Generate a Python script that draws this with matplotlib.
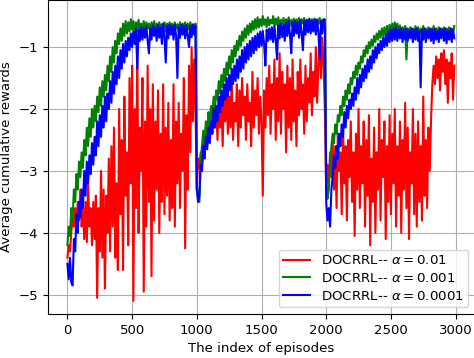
import numpy as np
import matplotlib
matplotlib.use("Agg")
import matplotlib.pyplot as plt

episodes = np.arange(0, 3000, 10)

red = [
    -4.4, -4.2, -4.3, -4.0, -3.7, -3.9, -3.6, -3.85, -3.5, -3.8,
    -3.3, -3.9, -3.6, -4.1, -3.5, -4.15, -3.2, -3.9, -3.6, -4.2,
    -3.5, -4.1, -3.4, -5.05, -3.6, -4.3, -3.0, -4.4, -3.3, -4.9,
    -3.4, -4.0, -2.8, -4.3, -2.6, -3.9, -2.3, -4.4, -3.2, -4.6,
    -2.0, -3.7, -2.5, -4.6, -1.8, -3.4, -2.7, -4.2, -1.5, -3.2,
    -1.3, -5.1, -2.0, -3.6, -1.0, -4.0, -2.3, -3.0, -1.5, -4.95,
    -2.2, -3.9, -1.3, -3.5, -2.0, -4.7, -1.6, -3.8, -2.2, -3.3,
    -1.7, -4.0, -2.4, -3.5, -1.6, -3.7, -2.3, -3.4, -1.9, -3.8,
    -2.5, -3.6, -1.6, -3.9, -2.2, -3.2, -1.9, -3.6, -2.4, -3.0,
    -1.5, -4.25, -2.1, -3.3, -1.3, -2.7, -1.0, -2.2, -1.2, -2.0,
    -3.3, -2.8, -2.95, -2.7, -2.9, -2.5, -2.7, -2.3, -2.6, -2.2,
    -2.45, -2.1, -2.4, -1.95, -2.3, -2.0, -2.5, -1.8, -2.3, -1.9,
    -2.6, -1.7, -2.2, -1.6, -2.4, -1.8, -2.3, -1.5, -2.5, -1.9,
    -2.2, -1.6, -2.6, -1.7, -2.3, -1.5, -2.1, -1.8, -2.5, -1.6,
    -2.2, -1.9, -2.6, -1.4, -2.3, -1.7, -2.1, -1.5, -2.4, -1.8,
    -2.2, -3.4, -1.7, -2.3, -1.5, -2.1, -1.3, -2.4, -1.6, -2.0,
    -1.2, -2.5, -1.5, -2.2, -1.1, -2.4, -1.4, -2.0, -1.6, -2.7,
    -1.3, -2.3, -1.5, -2.5, -1.2, -2.2, -1.7, -2.6, -1.4, -2.1,
    -1.2, -2.0, -1.6, -2.4, -1.3, -2.2, -1.5, -1.9, -1.1, -2.1,
    -1.4, -1.8, -1.0, -1.9, -1.3, -0.9, -1.5, -0.85, -1.3, -2.05,
    -3.3, -2.9, -3.2, -2.7, -3.1, -2.5, -3.3, -2.6, -3.6, -2.4,
    -3.0, -2.7, -3.7, -2.3, -3.2, -2.6, -3.8, -2.5, -3.1, -2.2,
    -3.5, -2.7, -4.05, -2.4, -3.3, -2.0, -3.6, -2.6, -3.2, -2.2,
    -3.9, -2.5, -3.4, -2.1, -4.2, -2.8, -3.5, -2.3, -4.0, -2.7,
    -3.3, -2.0, -3.8, -2.5, -3.1, -2.2, -4.1, -2.6, -3.5, -2.1,
    -3.7, -2.4, -3.2, -2.0, -3.9, -2.6, -3.4, -2.2, -4.0, -2.5,
    -3.3, -1.9, -3.6, -2.3, -4.1, -2.7, -3.2, -2.0, -3.7, -2.4,
    -3.9, -2.2, -3.5, -2.6, -3.8, -1.8, -3.4, -2.5, -3.6, -2.3,
    -3.0, -2.2, -1.6, -1.3, -1.6, -1.15, -1.5, -1.2, -1.7, -1.1,
    -1.4, -1.05, -1.6, -1.2, -1.9, -1.25, -1.5, -1.1, -1.85, -1.3,
]

green = [
    -4.2, -3.9, -4.05, -3.6, -3.8, -3.3, -3.5, -3.05, -3.3, -2.85,
    -3.1, -2.7, -2.95, -2.5, -2.75, -2.3, -2.6, -2.15, -2.45, -2.0,
    -2.3, -1.95, -2.2, -1.8, -2.05, -1.65, -1.95, -1.55, -1.8, -1.45,
    -1.7, -1.3, -1.55, -1.15, -1.4, -1.0, -1.25, -0.9, -1.1, -0.78,
    -0.95, -0.7, -0.9, -0.62, -0.82, -0.58, -0.78, -0.6, -0.75, -0.55,
    -0.72, -0.58, -0.76, -0.6, -0.7, -0.56, -0.74, -0.62, -0.7, -0.58,
    -0.74, -0.6, -0.7, -0.62, -0.76, -0.6, -0.72, -0.58, -0.7, -0.62,
    -0.74, -0.6, -0.72, -0.63, -0.7, -0.6, -0.75, -0.62, -0.7, -0.6,
    -0.72, -0.62, -0.74, -0.6, -0.7, -0.63, -0.75, -0.6, -0.72, -0.62,
    -0.7, -0.6, -0.74, -0.62, -0.72, -0.6, -0.7, -0.63, -0.74, -0.62,
    -3.2, -3.45, -3.5, -2.8, -2.6, -2.35, -2.55, -2.2, -2.4, -2.05,
    -2.25, -1.95, -2.1, -1.8, -2.0, -1.7, -1.85, -1.55, -1.75, -1.45,
    -1.65, -1.35, -1.55, -1.25, -1.45, -1.15, -1.35, -1.05, -1.25, -0.98,
    -1.15, -0.9, -1.05, -0.82, -0.98, -0.75, -0.9, -0.7, -0.85, -0.65,
    -0.8, -0.62, -0.76, -0.58, -0.72, -0.55, -0.7, -0.52, -0.68, -0.55,
    -0.66, -0.5, -0.64, -0.55, -0.68, -0.52, -0.65, -0.56, -0.62, -0.5,
    -0.66, -0.54, -0.64, -0.52, -0.68, -0.56, -0.62, -0.53, -0.66, -0.55,
    -0.64, -0.52, -0.66, -0.56, -0.62, -0.54, -0.66, -0.55, -0.63, -0.53,
    -0.65, -0.55, -0.62, -0.53, -0.66, -0.56, -0.63, -0.54, -0.65, -0.55,
    -0.62, -0.54, -0.66, -0.55, -0.63, -0.53, -0.65, -0.56, -0.62, -0.55,
    -3.1, -3.45, -3.3, -2.9, -2.6, -2.4, -2.55, -2.25, -2.4, -2.1,
    -2.2, -1.95, -2.1, -1.8, -1.95, -1.7, -1.85, -1.6, -1.75, -1.5,
    -1.6, -1.4, -1.5, -1.3, -1.45, -1.25, -1.35, -1.15, -1.25, -1.05,
    -1.15, -0.98, -1.1, -0.92, -1.02, -0.88, -0.98, -0.82, -0.92, -0.78,
    -0.88, -0.74, -0.85, -0.7, -0.82, -0.68, -0.8, -0.66, -0.78, -0.64,
    -0.76, -0.62, -0.74, -0.6, -0.72, -0.62, -0.76, -0.65, -0.8, -0.68,
    -0.78, -0.66, -1.2, -0.7, -0.8, -0.68, -0.76, -0.7, -0.82, -0.66,
    -0.78, -0.68, -0.8, -0.7, -0.76, -0.66, -0.8, -0.7, -0.78, -0.68,
    -0.8, -0.7, -0.78, -0.66, -0.82, -0.7, -0.78, -0.68, -0.8, -0.7,
    -0.78, -0.68, -0.82, -0.7, -0.76, -0.68, -0.8, -0.7, -0.78, -0.66,
]

blue = [
    -4.5, -4.75, -4.4, -4.8, -4.85, -4.1, -4.3, -3.7, -4.0, -3.5,
    -3.75, -3.3, -3.6, -3.0, -3.4, -2.85, -3.2, -2.75, -3.05, -2.55,
    -2.9, -2.45, -2.75, -2.2, -2.6, -2.1, -2.45, -1.95, -2.3, -1.8,
    -2.2, -1.75, -2.0, -1.55, -1.9, -1.4, -1.75, -1.3, -1.6, -1.15,
    -1.5, -1.05, -1.35, -0.95, -1.25, -0.9, -1.15, -0.85, -1.05, -0.78,
    -1.0, -0.75, -0.95, -0.7, -1.35, -0.72, -0.9, -0.68, -0.88, -0.7,
    -0.85, -0.66, -0.9, -1.1, -0.7, -0.88, -0.65, -0.82, -0.68, -0.9,
    -0.64, -0.85, -0.68, -0.95, -0.62, -0.84, -1.25, -0.66, -0.86, -0.64,
    -0.8, -0.66, -0.88, -0.64, -0.82, -1.5, -0.68, -0.85, -0.64, -0.8,
    -0.66, -0.86, -0.65, -0.82, -1.0, -0.66, -0.84, -0.64, -0.8, -0.66,
    -3.3, -3.5, -3.4, -2.9, -3.0, -2.6, -2.8, -2.45, -2.65, -2.3,
    -2.55, -2.2, -2.4, -2.0, -2.3, -1.95, -2.2, -1.8, -2.05, -1.7,
    -1.95, -1.6, -1.85, -1.5, -1.8, -1.45, -1.7, -1.35, -1.6, -1.3,
    -1.55, -1.2, -1.5, -1.15, -1.4, -1.05, -1.35, -1.0, -1.25, -0.95,
    -1.2, -0.9, -1.15, -0.85, -1.1, -0.82, -1.05, -0.78, -1.0, -0.75,
    -0.98, -0.74, -0.95, -1.3, -0.72, -0.9, -0.7, -0.88, -0.68, -0.92,
    -0.66, -0.88, -1.2, -0.65, -0.86, -0.62, -0.84, -0.64, -0.9, -0.6,
    -0.82, -0.58, -0.8, -1.1, -0.6, -0.82, -0.58, -0.78, -0.6, -0.85,
    -0.57, -0.78, -1.05, -0.58, -0.8, -0.56, -0.76, -0.55, -0.78, -0.58,
    -0.75, -0.55, -0.8, -0.57, -0.76, -1.2, -0.58, -0.78, -0.55, -0.7,
    -3.5, -3.8, -3.6, -3.9, -3.3, -3.1, -2.75, -2.95, -2.6, -2.8,
    -2.4, -2.6, -2.25, -2.45, -2.05, -2.3, -1.95, -2.15, -1.85, -2.0,
    -1.75, -1.95, -1.65, -1.85, -1.5, -1.75, -1.45, -1.65, -1.35, -1.55,
    -1.3, -1.5, -1.2, -1.4, -1.15, -1.35, -1.05, -1.25, -1.0, -1.18,
    -0.95, -1.1, -0.9, -1.05, -0.85, -1.0, -0.8, -0.98, -0.75, -0.92,
    -0.72, -0.9, -0.7, -0.88, -0.68, -0.9, -0.72, -0.86, -0.7, -0.92,
    -0.72, -0.88, -0.7, -0.9, -0.74, -0.86, -0.7, -0.92, -0.72, -0.88,
    -0.7, -0.9, -0.74, -1.65, -0.72, -0.88, -0.7, -0.92, -0.74, -0.86,
    -0.7, -0.9, -0.72, -0.94, -0.7, -0.88, -0.74, -0.92, -0.7, -0.86,
    -0.72, -0.9, -0.7, -0.94, -0.74, -0.88, -0.7, -0.92, -0.72, -0.86,
]

labels = [r"DOCRRL-- $\alpha=0.01$", r"DOCRRL-- $\alpha=0.001$", r"DOCRRL-- $\alpha=0.0001$"]
colors = ["red", "green", "blue"]
xticks = [0, 500, 1000, 1500, 2000, 2500, 3000]
yticks = [-5, -4, -3, -2, -1]

fig = plt.figure(figsize=(4.74, 3.58), dpi=100)
ax = fig.add_axes([48 / 474, 44 / 358, 427 / 474, 314 / 358])
for series, c, lab in zip([red, green, blue], colors, labels):
    ax.plot(episodes, series, color=c, lw=1.5, label=lab)

ax.set_xlim(-150, 3150)
ax.set_ylim(-5.31, -0.24)
ax.set_xticks(xticks)
ax.set_yticks(yticks)
ax.tick_params(labelsize=9.5)
ax.grid(True, color="#b0b0b0", lw=0.8)
ax.set_xlabel("The index of episodes", fontsize=9.5)
ax.set_ylabel("Average cumulative rewards", fontsize=9.5)
ax.yaxis.set_label_coords(-0.083, 0.5)
ax.legend(loc="lower right", fontsize=9.6, labelspacing=0.35, borderpad=0.35)
fig.savefig("out.png", dpi=100)
